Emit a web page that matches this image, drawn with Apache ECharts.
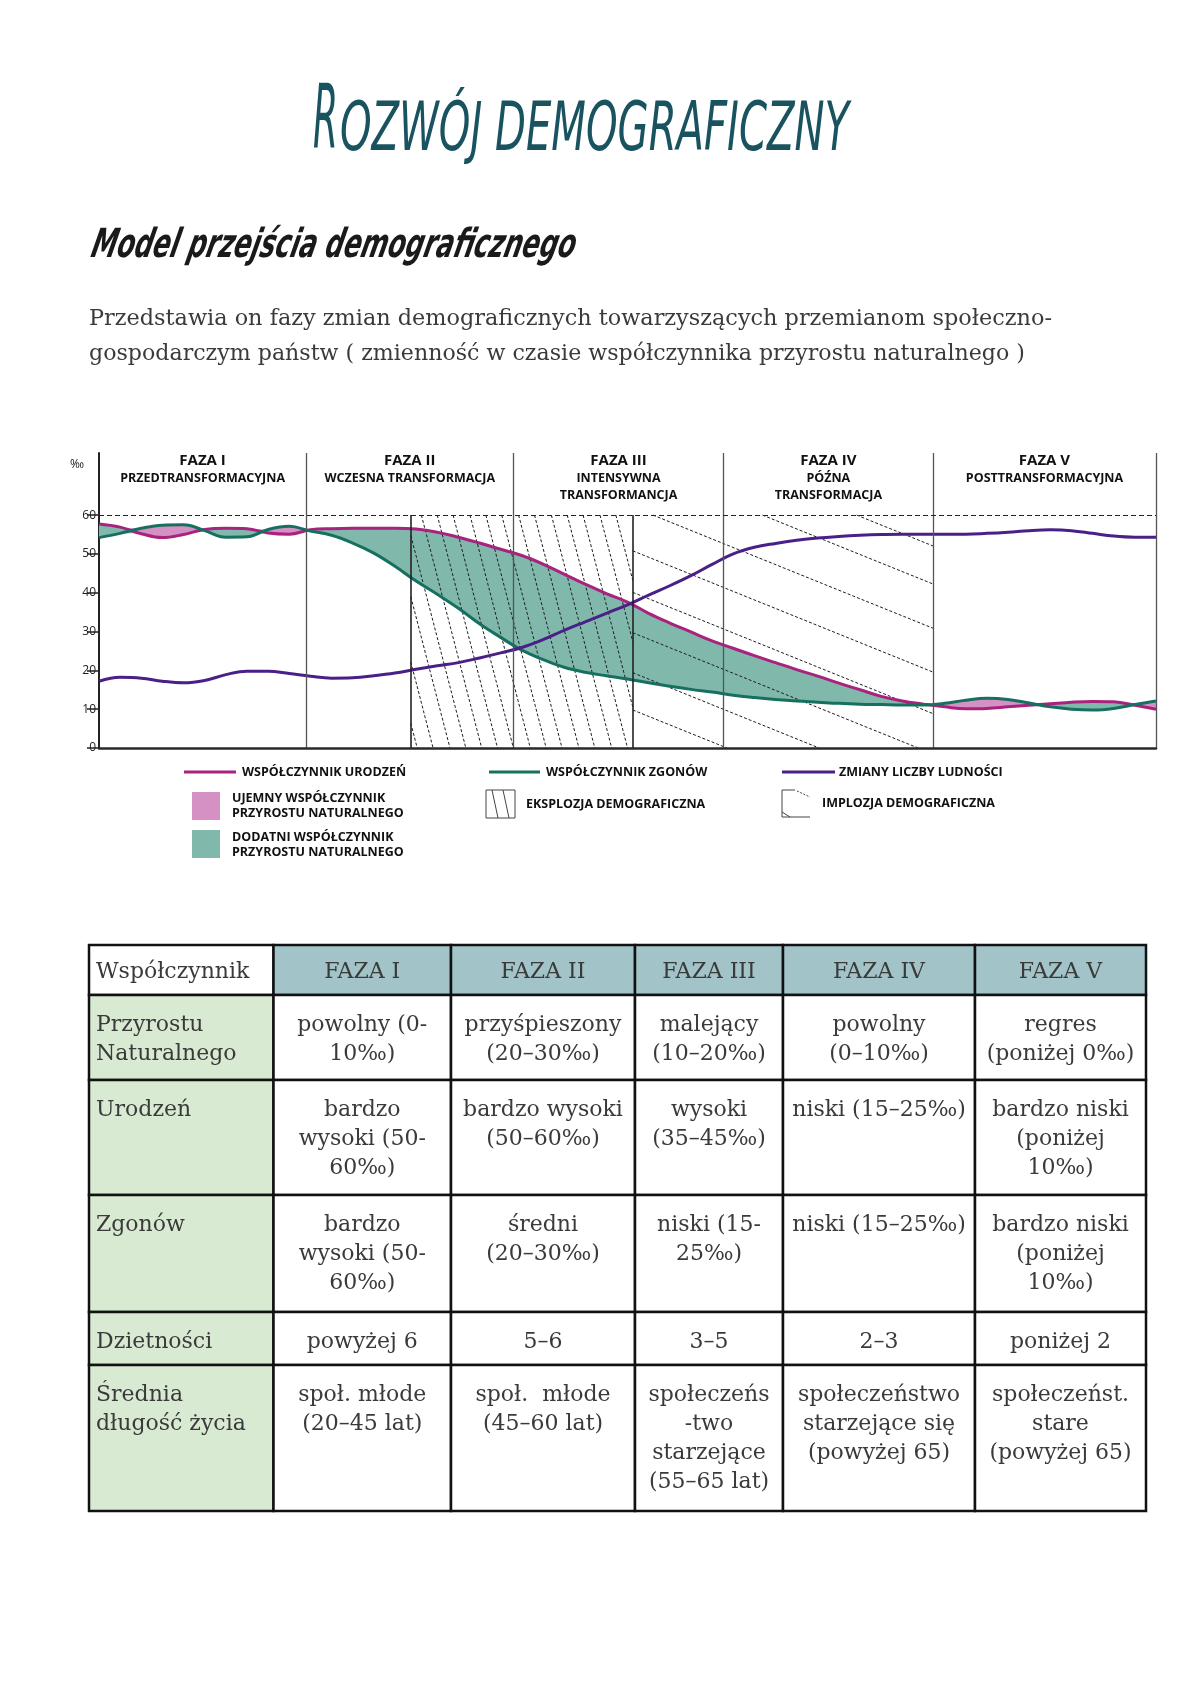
<!DOCTYPE html>
<html>
<head>
<meta charset="utf-8">
<script src="https://cdn.jsdelivr.net/npm/echarts@6/dist/echarts.min.js"></script>
<style>
html,body{margin:0;padding:0;background:#fff;}
#main{width:1200px;height:1696px;}
</style>
</head>
<body>
<div id="main"></div>
<script>
// ---------------- DATA ----------------
const xGrid = [0,2,4,6,8,10,12,14,16,18,20,22,24,26,28,30,32,34,36,38,40,42,44,46,48,50,52,54,56,58,60,62,64,66,68,70,72,74,76,78,80,82,84,86,88,90,92,94,96,98,100];
const birthRate = [57.7,56.9,55.2,54.2,55.0,56.3,56.6,56.5,55.4,55.1,56.2,56.5,56.6,56.6,56.6,56.4,55.6,54.3,52.8,51.2,49.6,47.4,44.8,42.2,39.8,37.6,34.7,32.2,29.9,27.6,25.7,23.8,22.0,20.2,18.5,16.7,15.0,13.3,12.1,11.3,10.6,10.1,10.2,10.6,11.0,11.4,11.8,12.0,11.9,11.0,10.0];
const deathRate = [54.2,55.3,56.6,57.4,57.5,56.0,54.3,54.4,56.3,57.1,55.9,54.8,52.8,50.2,46.8,43.0,39.6,36.0,32.0,28.5,25.2,22.8,20.8,19.5,18.6,17.8,16.8,15.9,15.1,14.4,13.6,13.0,12.5,12.1,11.8,11.5,11.3,11.2,11.1,11.1,11.5,12.3,12.8,12.5,11.6,10.6,10.0,9.8,10.2,11.2,12.1];
const populationChange = [17.2,18.2,18.0,17.2,16.8,17.4,18.9,19.8,19.8,19.2,18.5,18.0,18.1,18.6,19.3,20.3,21.2,22.0,23.2,24.5,25.9,27.9,30.3,32.5,34.7,36.9,39.4,41.8,44.4,47.3,50.0,51.7,52.7,53.5,54.1,54.5,54.8,55.0,55.1,55.1,55.1,55.1,55.3,55.6,56.0,56.2,56.0,55.3,54.6,54.3,54.3];

const yTicks = [0,10,20,30,40,50,60];
const yTop = 76;
const phaseBounds = [0,19.6,39.2,59.1,78.9,100];
const phaseNames = ['FAZA I','FAZA II','FAZA III','FAZA IV','FAZA V'];
const phaseSubtitles = [['PRZEDTRANSFORMACYJNA'],['WCZESNA TRANSFORMACJA'],['INTENSYWNA','TRANSFORMANCJA'],['PÓŹNA','TRANSFORMACJA'],['POSTTRANSFORMACYJNA']];
const limitLine = 60;

const explosionRange = [29.5,50.5];
const explosionHatchX = [24.4,25.9,27.5,29.0,30.5,32.0,33.5,35.1,36.6,38.1,39.7,41.2,42.8,44.3,45.8,47.4,48.9];
const explosionSlope = 0.0951;   // x-units per ‰
const implosionRange = [50.5,78.9];
const implosionHatchC = [9.8,19.4,29.7,40.1,50.8,62.1,73.5,83.3];
const implosionSlope = 1.1;      // ‰ per x-unit

const legendLabels = ['WSPÓŁCZYNNIK URODZEŃ','WSPÓŁCZYNNIK ZGONÓW','ZMIANY LICZBY LUDNOŚCI','UJEMNY WSPÓŁCZYNNIK\nPRZYROSTU NATURALNEGO','DODATNI WSPÓŁCZYNNIK\nPRZYROSTU NATURALNEGO','EKSPLOZJA DEMOGRAFICZNA','IMPLOZJA DEMOGRAFICZNA'];

const tableHeader = ['Współczynnik','FAZA I','FAZA II','FAZA III','FAZA IV','FAZA V'];
const tableRowLabels = ['Przyrostu\nNaturalnego','Urodzeń','Zgonów','Dzietności','Średnia\ndługość życia'];
const tableCells = [
  ['powolny (0-\n10‰)','przyśpieszony\n(20–30‰)','malejący\n(10–20‰)','powolny\n(0–10‰)','regres\n(poniżej 0‰)'],
  ['bardzo\nwysoki (50-\n60‰)','bardzo wysoki\n(50–60‰)','wysoki\n(35–45‰)','niski (15–25‰)','bardzo niski\n(poniżej\n10‰)'],
  ['bardzo\nwysoki (50-\n60‰)','średni\n(20–30‰)','niski (15-\n25‰)','niski (15–25‰)','bardzo niski\n(poniżej\n10‰)'],
  ['powyżej 6','5–6','3–5','2–3','poniżej 2'],
  ['społ. młode\n(20–45 lat)','społ.  młode\n(45–60 lat)','społeczeńs\n-two\nstarzejące\n(55–65 lat)','społeczeństwo\nstarzejące się\n(powyżej 65)','społeczeńst.\nstare\n(powyżej 65)']
];

const titleText = ['R','OZWÓJ DEMOGRAFICZNY'];
const subtitleText = 'Model przejścia demograficznego';
const paragraphLines = ['Przedstawia on fazy zmian demograficznych towarzyszących przemianom społeczno-','gospodarczym państw ( zmienność w czasie współczynnika przyrostu naturalnego )'];

// ---------------- LAYOUT / STYLE ----------------
const C = {magenta:'#a8227e', teal:'#17705f', purple:'#4a2088', pinkFill:'#d590c4', tealFill:'#80b8ac',
           header:'#a2c4c9', labelCol:'#d9ead3', title:'#1a5360', text:'#3a3a3a'};
const tableColEdges = [0,184.5,362,546,694,886,1057];
const tableRowEdges = [0,50,135,250,367,420,566];
const SM = 0.4;

function pairs(arr){ return xGrid.map((x,i)=>[x,arr[i]]); }
const base = xGrid.map((x,i)=>Math.min(birthRate[i],deathRate[i]));
const pos = xGrid.map((x,i)=>Math.max(birthRate[i]-deathRate[i],0));
const neg = xGrid.map((x,i)=>Math.max(deathRate[i]-birthRate[i],0));

function clip(x1,y1,x2,y2,xmin,xmax,ymin,ymax){
  let t0=0,t1=1; const dx=x2-x1, dy=y2-y1;
  const p=[-dx,dx,-dy,dy], q=[x1-xmin,xmax-x1,y1-ymin,ymax-y1];
  for(let i=0;i<4;i++){
    if(p[i]===0){ if(q[i]<0) return null; }
    else { const t=q[i]/p[i]; if(p[i]<0){ if(t>t1) return null; if(t>t0) t0=t; } else { if(t<t0) return null; if(t<t1) t1=t; } }
  }
  return [x1+t0*dx, y1+t0*dy, x1+t1*dx, y1+t1*dy];
}
const hatchStyle = {stroke:'#1e1e1e', lineWidth:1, lineDash:[3,2]};

function measure(text, font){ const ctx=document.createElement('canvas').getContext('2d'); ctx.font=font; return ctx.measureText(text).width; }
const titleFontR = 'italic 89px "DejaVu Sans Condensed", "DejaVu Sans", sans-serif';
const titleFont = 'italic 68px "DejaVu Sans Condensed", "DejaVu Sans", sans-serif';
const subFont = 'italic bold 40px "DejaVu Sans", sans-serif';
const parFont = '22px "DejaVu Serif", serif';
const legendFont = 'bold 12.5px "Open Sans", sans-serif';

const graphic = [
  {type:'text', x:313, y:125, scaleX:25/measure(titleText[0],titleFontR), style:{text:titleText[0], font:titleFontR, fill:C.title, verticalAlign:'middle'}},
  {type:'text', x:340, y:132, scaleX:509/measure(titleText[1],titleFont), style:{text:titleText[1], font:titleFont, fill:C.title, verticalAlign:'middle'}},
  {type:'text', x:92, y:247, skewX:-0.22, scaleX:484/measure(subtitleText,subFont), style:{text:subtitleText, font:subFont, fill:'#1a1a1a', verticalAlign:'middle'}},
  {type:'text', x:89, y:319, scaleX:963/measure(paragraphLines[0],parFont), style:{text:paragraphLines[0], font:parFont, fill:C.text, verticalAlign:'middle'}},
  {type:'text', x:89, y:354, scaleX:936/measure(paragraphLines[1],parFont), style:{text:paragraphLines[1], font:parFont, fill:C.text, verticalAlign:'middle'}},
  {type:'text', x:77, y:465, style:{text:'‰', font:'12px "Open Sans", sans-serif', fill:'#222', align:'center', verticalAlign:'middle'}},
  // legend
  {type:'line', shape:{x1:184,y1:772,x2:236,y2:772}, style:{stroke:C.magenta, lineWidth:3}},
  {type:'text', x:242, y:772, style:{text:legendLabels[0], font:legendFont, fill:'#111', verticalAlign:'middle'}},
  {type:'line', shape:{x1:489,y1:772,x2:540,y2:772}, style:{stroke:C.teal, lineWidth:3}},
  {type:'text', x:546, y:772, style:{text:legendLabels[1], font:legendFont, fill:'#111', verticalAlign:'middle'}},
  {type:'line', shape:{x1:782,y1:772,x2:835,y2:772}, style:{stroke:C.purple, lineWidth:3}},
  {type:'text', x:839, y:772, style:{text:legendLabels[2], font:legendFont, fill:'#111', verticalAlign:'middle'}},
  {type:'rect', shape:{x:192,y:792,width:28,height:28}, style:{fill:C.pinkFill}},
  {type:'text', x:232, y:806, style:{text:legendLabels[3], font:legendFont, fill:'#111', verticalAlign:'middle', lineHeight:15.5}},
  {type:'rect', shape:{x:192,y:830,width:28,height:28}, style:{fill:C.tealFill}},
  {type:'text', x:232, y:845, style:{text:legendLabels[4], font:legendFont, fill:'#111', verticalAlign:'middle', lineHeight:15.5}},
  {type:'polyline', shape:{points:[[486,790],[486,818],[515,818],[515,790],[486,790]]}, style:{stroke:'#444', lineWidth:1, fill:null}},
  {type:'line', shape:{x1:492,y1:790,x2:498,y2:818}, style:{stroke:'#444', lineWidth:1}},
  {type:'line', shape:{x1:503,y1:790,x2:509,y2:818}, style:{stroke:'#444', lineWidth:1}},
  {type:'text', x:526, y:804, style:{text:legendLabels[5], font:legendFont, fill:'#111', verticalAlign:'middle'}},
  {type:'polyline', shape:{points:[[795,790],[782,790],[782,817],[810,817]]}, style:{stroke:'#444', lineWidth:1, fill:null}},
  {type:'line', shape:{x1:797,y1:791,x2:810,y2:797}, style:{stroke:'#444', lineWidth:1, lineDash:[2,1.5]}},
  {type:'line', shape:{x1:782,y1:812,x2:790,y2:817}, style:{stroke:'#444', lineWidth:1}},
  {type:'text', x:822, y:803, style:{text:legendLabels[6], font:legendFont, fill:'#111', verticalAlign:'middle'}}
];

const option = {
  animation:false,
  backgroundColor:'#fff',
  graphic: graphic,
  grid:[{left:99, top:453, width:1057, height:295},{left:89, top:945, width:1057, height:566}],
  xAxis:[
    {type:'value', gridIndex:0, min:0, max:100, axisLine:{onZero:false, lineStyle:{color:'#2a2a2a', width:2.5}}, axisTick:{show:false}, axisLabel:{show:false}, splitLine:{show:false}, z:6},
    {type:'value', gridIndex:1, min:0, max:tableColEdges[tableColEdges.length-1], show:false},
    {type:'category', gridIndex:0, data:xGrid.map(String), boundaryGap:false, show:false}
  ],
  yAxis:[
    {type:'value', gridIndex:0, min:0, max:yTop,
     axisLine:{show:true, lineStyle:{color:'#222', width:2}},
     axisTick:{show:true, length:12, customValues:yTicks, lineStyle:{color:'#222', width:1.5}},
     axisLabel:{customValues:yTicks, margin:3, color:'#222', fontSize:12, fontFamily:'Open Sans'},
     splitLine:{show:false}},
    {type:'value', gridIndex:1, min:0, max:tableRowEdges[tableRowEdges.length-1], inverse:true, show:false}
  ],
  series:[
    {type:'line', name:'base', xAxisIndex:2, data:base, stack:'g', smooth:SM, symbol:'none', lineStyle:{width:0, opacity:0}, z:2, silent:true},
    {type:'line', name:'pos', xAxisIndex:2, data:pos, stack:'g', smooth:SM, symbol:'none', lineStyle:{width:0, opacity:0}, areaStyle:{color:C.tealFill, opacity:1}, z:2, silent:true},
    {type:'line', name:'neg', xAxisIndex:2, data:neg, stack:'g', smooth:SM, symbol:'none', lineStyle:{width:0, opacity:0}, areaStyle:{color:C.pinkFill, opacity:1}, z:2, silent:true},
    {type:'line', name:'guides', data:pairs(birthRate), symbol:'none', lineStyle:{width:0, opacity:0}, z:3, silent:true,
     markLine:{silent:true, symbol:['none','none'], label:{show:false},
       data:[
         ...phaseBounds.slice(1).map(x=>({xAxis:x, lineStyle:{color:'#555', width:1.3, type:'solid'}})),
         {yAxis:limitLine, lineStyle:{color:'#222', width:1.2, type:[5,3]}},
         [{coord:[explosionRange[0],0], lineStyle:{color:'#222', width:1.6, type:'solid'}},{coord:[explosionRange[0],limitLine]}],
         [{coord:[explosionRange[1],0], lineStyle:{color:'#222', width:1.6, type:'solid'}},{coord:[explosionRange[1],limitLine]}]
       ]}},
    {type:'custom', name:'explosion', data:explosionHatchX.map(v=>[v]), z:3, silent:true,
     renderItem:function(params, api){
       const x0=api.value(0);
       const s=clip(x0-20*explosionSlope, 80, x0+80*explosionSlope, -20, explosionRange[0], explosionRange[1], 0, limitLine);
       if(!s) return null;
       const a=api.coord([s[0],s[1]]), b=api.coord([s[2],s[3]]);
       return {type:'line', shape:{x1:a[0],y1:a[1],x2:b[0],y2:b[1]}, style:hatchStyle};
     }},
    {type:'custom', name:'implosion', data:implosionHatchC.map(v=>[v]), z:3, silent:true,
     renderItem:function(params, api){
       const c=api.value(0), xs=implosionRange[0];
       const s=clip(xs-20, c+20*implosionSlope, xs+60, c-60*implosionSlope, implosionRange[0], implosionRange[1], 0, limitLine);
       if(!s) return null;
       const a=api.coord([s[0],s[1]]), b=api.coord([s[2],s[3]]);
       return {type:'line', shape:{x1:a[0],y1:a[1],x2:b[0],y2:b[1]}, style:hatchStyle};
     }},
    {type:'line', name:'Urodzenia', data:pairs(birthRate), smooth:SM, symbol:'none', lineStyle:{color:C.magenta, width:3}, z:4},
    {type:'line', name:'Zgony', data:pairs(deathRate), smooth:SM, symbol:'none', lineStyle:{color:C.teal, width:3}, z:4},
    {type:'line', name:'Ludność', data:pairs(populationChange), smooth:SM, symbol:'none', lineStyle:{color:C.purple, width:3}, z:4},
    {type:'custom', name:'phases', data:phaseNames.map((n,i)=>[i]), z:5, silent:true,
     renderItem:function(params, api){
       const i=api.value(0);
       const p=api.coord([(phaseBounds[i]+phaseBounds[i+1])/2, yTop]);
       const children=[{type:'text', style:{text:phaseNames[i], x:p[0], y:p[1]+7.5, align:'center', verticalAlign:'middle', font:'bold 15px "Open Sans", sans-serif', fill:'#111'}}];
       phaseSubtitles[i].forEach((s,j)=>children.push({type:'text', style:{text:s, x:p[0], y:p[1]+25+j*17, align:'center', verticalAlign:'middle', font:'bold 12.5px "Open Sans", sans-serif', fill:'#111'}}));
       return {type:'group', children:children};
     }},
    {type:'custom', name:'table', xAxisIndex:1, yAxisIndex:1, silent:true, z:2,
     data:(function(){ const d=[]; for(let r=0;r<=tableRowLabels.length;r++) for(let c=0;c<tableHeader.length;c++) d.push([c,r]); return d; })(),
     renderItem:function(params, api){
       const c=api.value(0), r=api.value(1);
       const p1=api.coord([tableColEdges[c], tableRowEdges[r]]);
       const p2=api.coord([tableColEdges[c+1], tableRowEdges[r+1]]);
       const x=p1[0], y=Math.min(p1[1],p2[1]), w=p2[0]-p1[0], h=Math.abs(p2[1]-p1[1]);
       const fill = r===0 ? (c===0 ? '#fff' : C.header) : (c===0 ? C.labelCol : '#fff');
       const text = r===0 ? tableHeader[c] : (c===0 ? tableRowLabels[r-1] : tableCells[r-1][c-1]);
       const align = c===0 ? 'left' : 'center';
       const tx = c===0 ? x+7 : x+w/2;
       const va = r===0 ? 'middle' : 'top';
       const ty = r===0 ? y+h/2+2 : y+15.5;
       return {type:'group', children:[
         {type:'rect', shape:{x:x,y:y,width:w,height:h}, style:{fill:fill, stroke:'#111', lineWidth:2.5}},
         {type:'text', style:{text:text, x:tx, y:ty, align:align, verticalAlign:va, font:'22px "DejaVu Serif", serif', fill:C.text, lineHeight:29}}
       ]};
     }}
  ]
};

const chart = echarts.init(document.getElementById('main'), null, {renderer:'canvas'});
chart.setOption(option);
</script>
</body>
</html>
